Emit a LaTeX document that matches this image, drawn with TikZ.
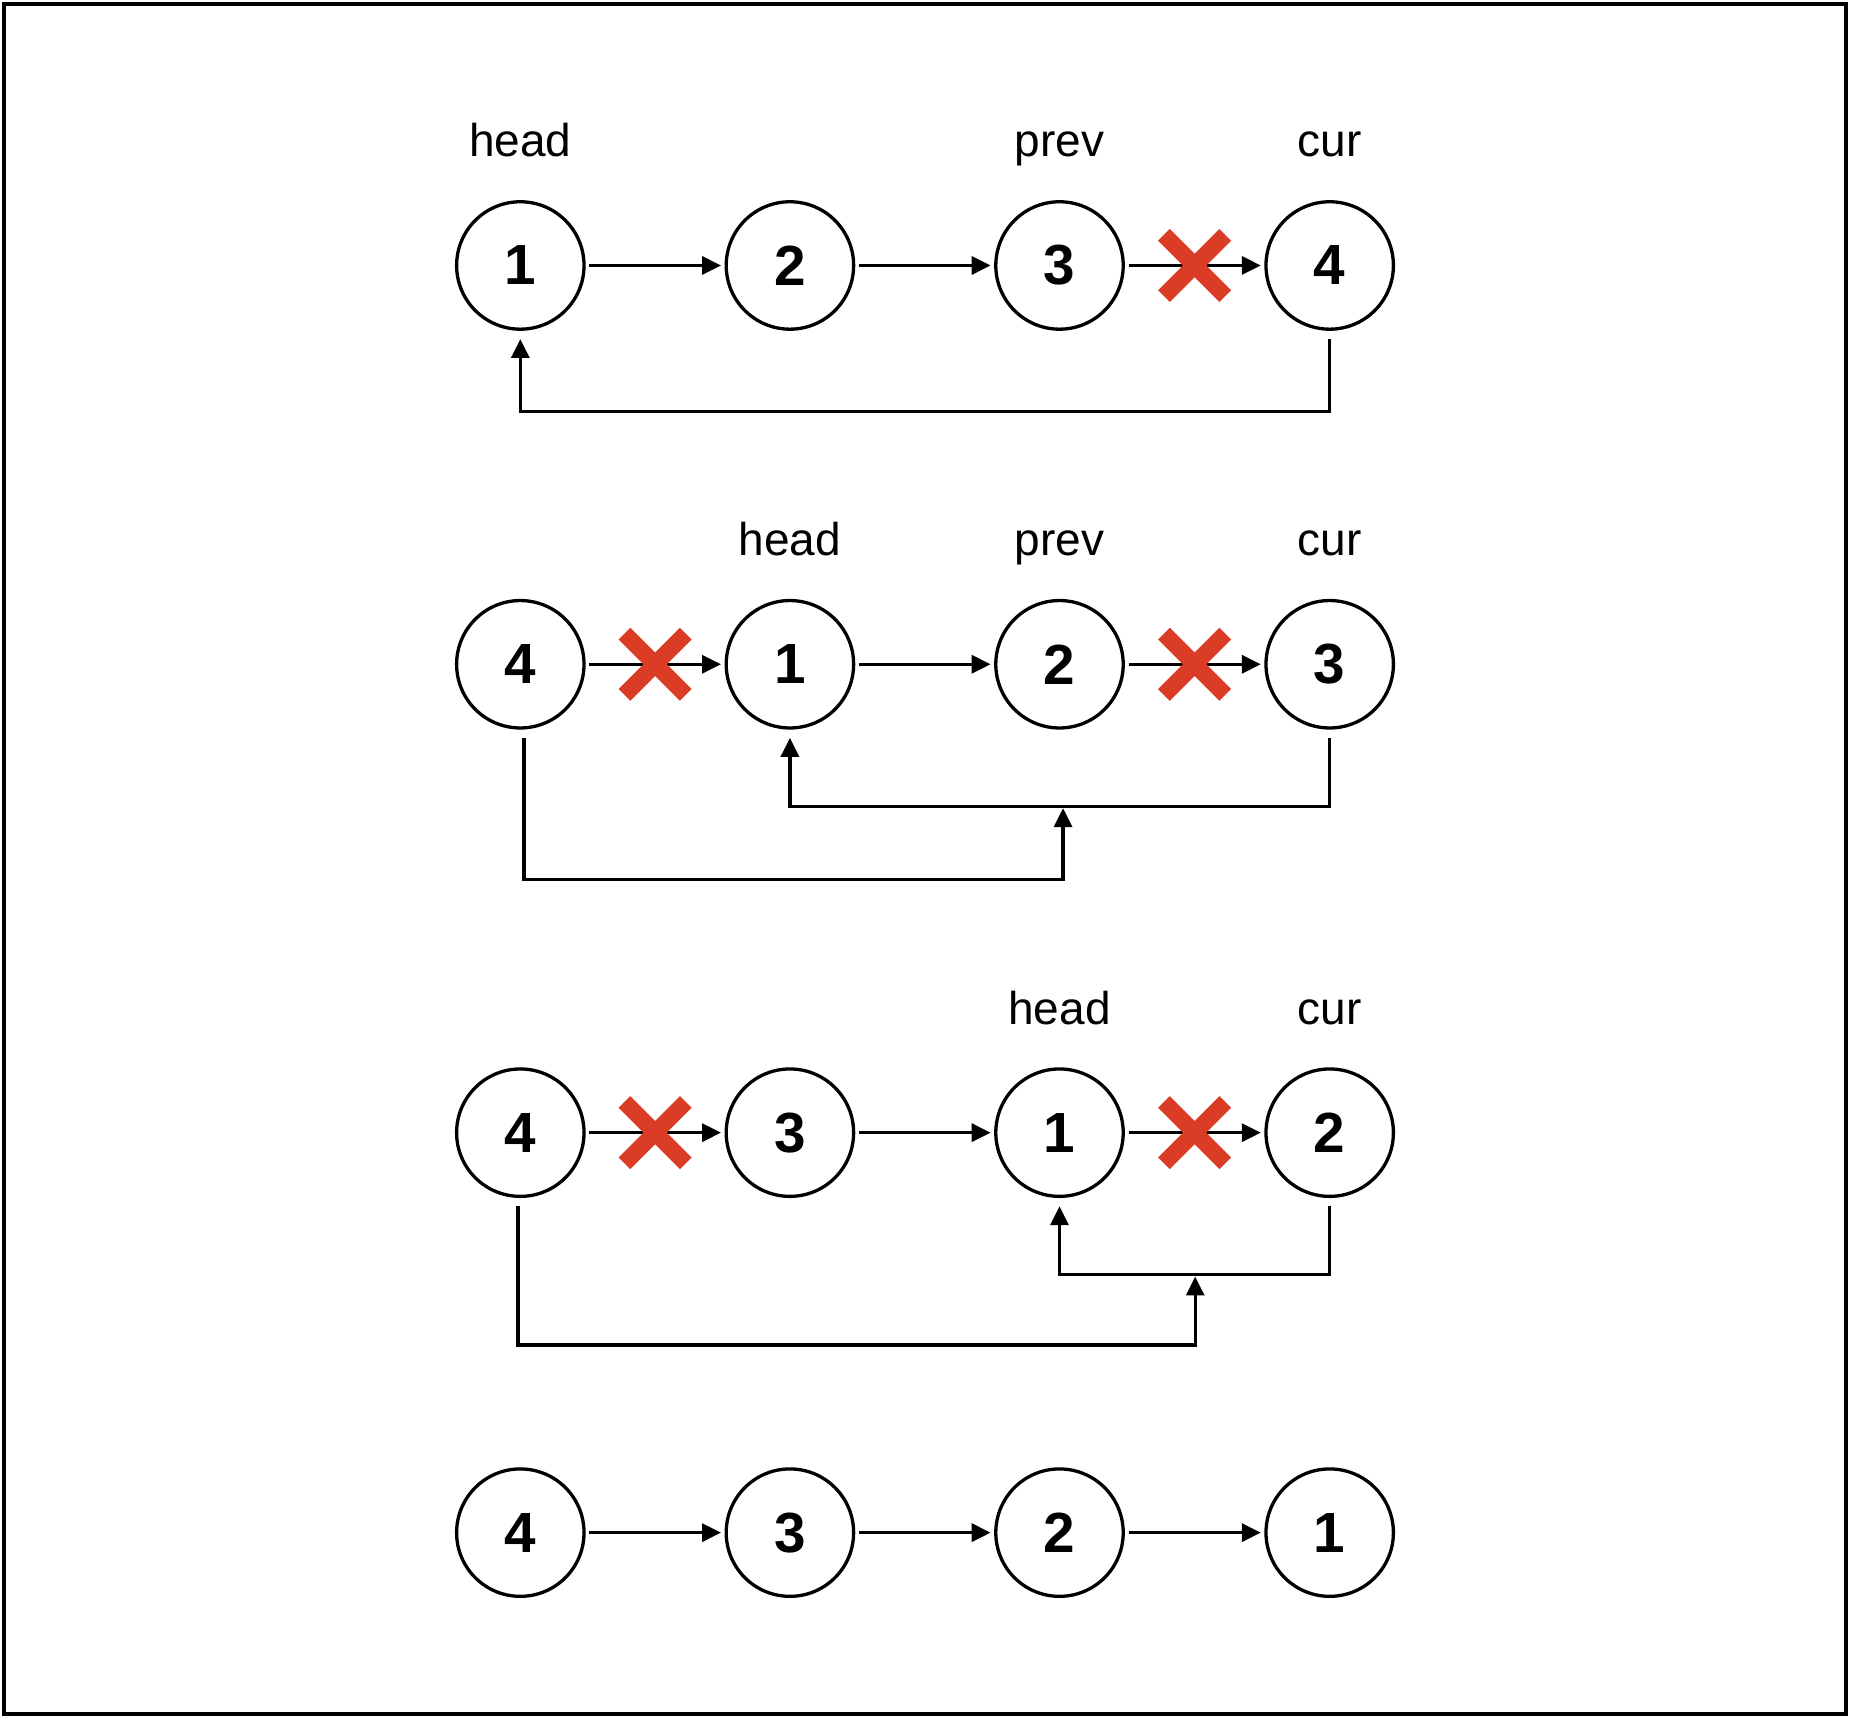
\documentclass[tikz,border=0pt]{standalone}
\usepackage{fontspec}
\setmainfont{Liberation Sans}
\usetikzlibrary{arrows.meta,calc}

\definecolor{crossred}{RGB}{219,60,38}

\tikzset{
  item/.style={draw, circle, line width=1.4pt, minimum size=54pt, inner sep=0pt,
    font=\fontsize{24}{24}\selectfont\bfseries},
  tag/.style={anchor=base, inner sep=0pt, font=\fontsize{19.5}{20}\selectfont},
  link/.style={line width=1.4pt, -{Triangle[length=8pt,width=7.6pt]},
    shorten <=1.6pt, shorten >=1.5pt},
  back/.style={line width=1.4pt, -{Triangle[length=8pt,width=7.6pt]}},
  cut/.pic={\draw[crossred, line width=7pt] (-26,-26) -- (26,26) (-26,26) -- (26,-26);}
}

\begin{document}
\begin{tikzpicture}[x=0.5pt, y=-0.5pt]
  \useasboundingbox (0,0) rectangle (1568,1456);
  \draw[line width=1.7pt] (3.4,3.4) rectangle (1564.6,1452.7);

  % the four rows of the list
  \foreach \r/\y/\a/\b/\c/\d in {1/225/1/2/3/4, 2/563/4/1/2/3, 3/960/4/3/1/2, 4/1299/4/3/2/1} {
    \node[item] (n\r1) at (441,\y) {\a};
    \node[item] (n\r2) at (669.5,\y) {\b};
    \node[item] (n\r3) at (898,\y) {\c};
    \node[item] (n\r4) at (1127,\y) {\d};
    \draw[link] (n\r1) -- (n\r2);
    \draw[link] (n\r2) -- (n\r3);
    \draw[link] (n\r3) -- (n\r4);
  }

  % pointers
  \node[tag] (lh1) at ([yshift=46pt]n11.center) {head};
  \node[tag] (lp1) at ([yshift=46pt]n13.center) {prev};
  \node[tag] (lc1) at ([yshift=46pt]n14.center) {cur};
  \node[tag] (lh2) at ([yshift=46pt]n22.center) {head};
  \node[tag] (lp2) at ([yshift=46pt]n23.center) {prev};
  \node[tag] (lc2) at ([yshift=46pt]n24.center) {cur};
  \node[tag] (lh3) at ([yshift=46pt]n33.center) {head};
  \node[tag] (lc3) at ([yshift=46pt]n34.center) {cur};

  % row 1
  \coordinate (low1) at (0,348.7);
  \draw[back] ([yshift=-3.5pt]n14.south) -- (n14 |- low1) -- (n11 |- low1) -- ([yshift=-3.5pt]n11.south);
  \pic at ($(n13)!0.5!(n14)$) {cut};

  % row 2
  \coordinate (low2) at (0,683.5);
  \coordinate (deep2) at (0,745.4);
  \coordinate (join2) at (901,685);
  \coordinate (from2) at ([xshift=1.5pt,yshift=-3.5pt]n21.south);
  \draw[back] ([yshift=-3.5pt]n24.south) -- (n24 |- low2) -- (n22 |- low2) -- ([yshift=-3.5pt]n22.south);
  \draw[back] (from2) -- (from2 |- deep2) -- (join2 |- deep2) -- (join2);
  \pic at ($(n21)!0.5!(n22)$) {cut};
  \pic at ($(n23)!0.5!(n24)$) {cut};

  % row 3
  \coordinate (low3) at (0,1080.4);
  \coordinate (deep3) at (0,1140);
  \coordinate (join3) at (1013,1082);
  \coordinate (from3) at ([xshift=-1pt,yshift=-3.5pt]n31.south);
  \draw[back] ([yshift=-3.5pt]n34.south) -- (n34 |- low3) -- (n33 |- low3) -- ([yshift=-3.5pt]n33.south);
  \draw[back] (from3) -- (from3 |- deep3) -- (join3 |- deep3) -- (join3);
  \pic at ($(n31)!0.5!(n32)$) {cut};
  \pic at ($(n33)!0.5!(n34)$) {cut};
\end{tikzpicture}
\end{document}
